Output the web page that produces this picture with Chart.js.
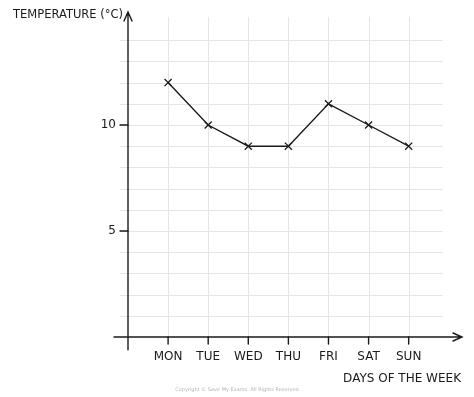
<!DOCTYPE html>
<html>
<head>
<meta charset="utf-8">
<script src="https://cdn.jsdelivr.net/npm/chart.js@4"></script>
<style>
  html, body { margin: 0; padding: 0; background: #fff; }
  #wrap { width: 474px; height: 397px; }
</style>
</head>
<body>
<div id="wrap"><canvas id="chart" width="474" height="397"></canvas></div>
<script>
const days = ['MON', 'TUE', 'WED', 'THU', 'FRI', 'SAT', 'SUN'];
const temperatures = [12, 10, 9, 9, 11, 10, 9];
const yTickLabels = [5, 10];
const yTitle = 'TEMPERATURE (°C)';
const xTitle = 'DAYS OF THE WEEK';
const copyright = 'Copyright © Save My Exams. All Rights Reserved';

const ink = '#1a1a1a';
const gridColor = '#e4e4ea';
const font = '"DejaVu Sans", sans-serif';

// grid, axes with arrows, ticks and labels
const sketchAxes = {
    id: 'sketchAxes',
    beforeDatasetsDraw(chart) {
        const ctx = chart.ctx;
        const x = chart.scales.x;
        const y = chart.scales.y;
        const x0 = x.getPixelForValue(0);
        const y0 = y.getPixelForValue(0);

        ctx.save();
        ctx.strokeStyle = gridColor;
        ctx.lineWidth = 1;
        // horizontal grid
        for (let v = 1; v <= 14; v++) {
            let py = Math.round(y.getPixelForValue(v)) + 0.5;
            ctx.beginPath();
            ctx.moveTo(x.getPixelForValue(-0.2), py);
            ctx.lineTo(x.getPixelForValue(7.85), py);
            ctx.stroke();
        }
        // vertical grid
        days.forEach((d, i) => {
            let px = Math.round(x.getPixelForValue(i + 1)) + 0.5;
            ctx.beginPath();
            ctx.moveTo(px, y.getPixelForValue(15.1));
            ctx.lineTo(px, y0);
            ctx.stroke();
        });

        ctx.strokeStyle = ink;
        ctx.lineWidth = 1.4;
        ctx.lineCap = 'round';
        // y axis
        const yTop = y.getPixelForValue(y.max);
        ctx.beginPath();
        ctx.moveTo(x0, y.getPixelForValue(-0.6));
        ctx.lineTo(x0, yTop);
        ctx.moveTo(x0 - 4, yTop + 9);
        ctx.lineTo(x0, yTop);
        ctx.lineTo(x0 + 4, yTop + 9);
        ctx.stroke();
        // x axis
        const xEnd = x.getPixelForValue(x.max);
        ctx.beginPath();
        ctx.moveTo(x.getPixelForValue(-0.35), y0);
        ctx.lineTo(xEnd, y0);
        ctx.moveTo(xEnd - 9, y0 - 4);
        ctx.lineTo(xEnd, y0);
        ctx.lineTo(xEnd - 9, y0 + 4);
        ctx.stroke();

        ctx.fillStyle = ink;
        ctx.font = '12px ' + font;
        // x ticks and labels
        ctx.textAlign = 'center';
        ctx.textBaseline = 'middle';
        days.forEach((d, i) => {
            let px = x.getPixelForValue(i + 1);
            ctx.beginPath();
            ctx.moveTo(px, y0);
            ctx.lineTo(px, y0 + 7);
            ctx.stroke();
            ctx.fillText(d, px, y0 + 20);
        });
        // y ticks and labels
        ctx.textAlign = 'right';
        yTickLabels.forEach(v => {
            let py = y.getPixelForValue(v);
            ctx.beginPath();
            ctx.moveTo(x0 - 8, py);
            ctx.lineTo(x0, py);
            ctx.stroke();
            ctx.fillText(String(v), x0 - 12, py);
        });

        // titles
        ctx.font = '11.5px ' + font;
        ctx.textAlign = 'left';
        ctx.fillText(yTitle, 13, 15);
        ctx.font = '12px ' + font;
        ctx.textAlign = 'right';
        ctx.fillText(xTitle, 461, 379);

        ctx.fillStyle = '#b5b5b5';
        ctx.font = '5px ' + font;
        ctx.textAlign = 'center';
        ctx.fillText(copyright, 237, 390);
        ctx.restore();
    }
};

new Chart(document.getElementById('chart'), {
    type: 'line',
    data: {
        datasets: [{
            data: temperatures.map((t, i) => ({ x: i + 1, y: t })),
            borderColor: ink,
            borderWidth: 1.4,
            pointStyle: 'crossRot',
            pointRadius: 5,
            pointBorderColor: ink,
            pointBorderWidth: 1.3,
            tension: 0
        }]
    },
    options: {
        responsive: false,
        animation: false,
        layout: {
            padding: { left: 128, right: 12, top: 12, bottom: 60 }
        },
        scales: {
            x: { type: 'linear', min: 0, max: 8.33, display: false },
            y: { type: 'linear', min: 0, max: 15.33, display: false }
        },
        plugins: {
            legend: { display: false },
            tooltip: { enabled: false }
        }
    },
    plugins: [sketchAxes]
});
</script>
</body>
</html>
